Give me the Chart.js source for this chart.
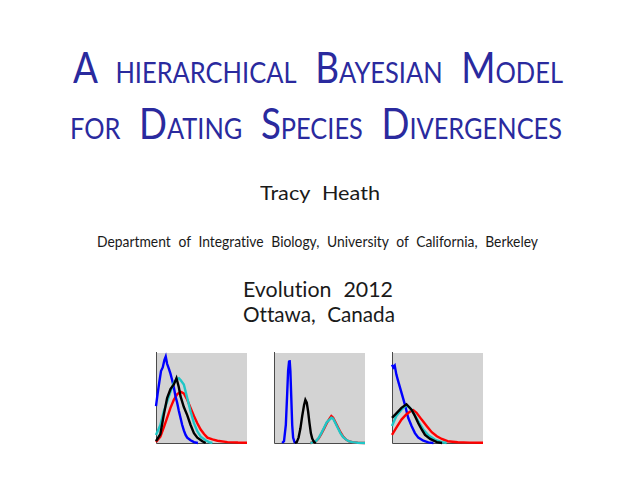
<!DOCTYPE html>
<html>
<head>
<meta charset="utf-8">
<script src="https://cdn.jsdelivr.net/npm/chart.js@4.4.1/dist/chart.umd.min.js"></script>
<style>
  html, body { margin: 0; padding: 0; background: #fff; }
  body { width: 638px; height: 479px; position: relative; overflow: hidden; font-family: Lato, "Open Sans", sans-serif; }
  .txt { position: absolute; white-space: nowrap; line-height: 1; transform-origin: 0 0; font-variant-ligatures: none; }
  .title { color: #2a2a9e; font-size: 42px; font-variant: small-caps; word-spacing: 0.25em; }
  .plain { color: #1a1a1a; }
  canvas { position: absolute; }
</style>
</head>
<body>
<span class="txt title" id="t1" data-left="73" data-width="490" style="top:45.7px">A hierarchical Bayesian Model</span>
<span class="txt title" id="t2" data-left="70" data-width="492" style="top:101.7px">for Dating Species Divergences</span>
<span class="txt plain" data-left="260" data-width="120" style="top:182px;font-size:20px;word-spacing:0.3em">Tracy Heath</span>
<span class="txt plain" data-left="97" data-width="441" style="top:233.7px;font-size:15px;word-spacing:0.3em">Department of Integrative Biology, University of California, Berkeley</span>
<span class="txt plain" data-left="243" data-width="150" style="top:277.5px;font-size:22px;word-spacing:0.3em">Evolution 2012</span>
<span class="txt plain" data-left="243" data-width="152" style="top:302.5px;font-size:22px;word-spacing:0.3em">Ottawa, Canada</span>

<canvas id="p1" width="100" height="100" style="left:151px;top:348px"></canvas>
<canvas id="p2" width="100" height="100" style="left:269px;top:348px"></canvas>
<canvas id="p3" width="100" height="100" style="left:387px;top:348px"></canvas>

<script>
// panel 1
const p1BlueX  = [0, 1.8, 3.7, 5.5, 7.4, 9.2, 10.7, 12.2, 14, 15.9, 17.7, 19.6, 21.4, 23.2, 25, 26.9, 28.8, 30.6, 32.5, 34.3, 38, 41.7, 46];
const p1BlueY  = [.41, .55, .68, .80, .84, .92, .96, .88, .83, .77, .70, .62, .52, .45, .36, .28, .20, .14, .09, .06, .03, .01, 0];
const p1BlackX = [0, 4.8, 8.5, 12.2, 15.9, 19.6, 22.5, 25.1, 26.9, 30.6, 34.3, 38, 41.7, 45.4, 50.9, 54.6];
const p1BlackY = [.02, .10, .31, .50, .60, .65, .72, .62, .52, .40, .31, .20, .11, .06, .02, 0];
const p1CyanX  = [0, 4.8, 8.5, 12.2, 15.9, 19.6, 23.2, 25.1, 27, 30.6, 34.3, 38, 41.7, 45.4, 49.1, 54.6, 58.3, 62];
const p1CyanY  = [.09, .20, .35, .46, .57, .67, .71, .72, .70, .65, .50, .35, .22, .13, .07, .03, .01, 0];
const p1RedX   = [0, 4.8, 8.5, 12.2, 15.9, 19.6, 23.2, 26.9, 30.6, 34.3, 38, 41.7, 45.4, 49.1, 52.8, 56.5, 62, 67.5, 78.6, 90, 100];
const p1RedY   = [.01, .07, .17, .28, .39, .48, .54, .57, .55, .48, .39, .30, .22, .15, .10, .06, .04, .025, .01, .005, .003];

// panel 2
const p2BlueX  = [9, 11, 13, 14.5, 15.5, 16.5, 17.2, 18, 19, 20, 21, 22.5, 24];
const p2BlueY  = [0, .02, .20, .55, .80, .90, .92, .80, .50, .20, .06, .01, 0];
const p2BlackX = [23, 25, 27, 29, 31, 33, 34.5, 36, 37.5, 39, 40.5, 42, 44, 46];
const p2BlackY = [0, .01, .06, .16, .30, .42, .48, .45, .35, .22, .11, .05, .01, 0];
const p2CyanX  = [40, 43, 46, 49, 52, 55, 58, 61, 63, 65, 67, 70, 73, 76, 79, 82, 86, 92, 100];
const p2CyanY  = [0, .006, .02, .055, .11, .17, .23, .26, .28, .27, .23, .17, .11, .065, .04, .02, .01, .003, 0];
const p2RedX   = [40, 43, 46, 49, 52, 55, 58, 61, 63, 65, 67, 70, 73, 76, 79, 82, 86, 92, 100];
const p2RedY   = [0, .005, .02, .05, .10, .16, .22, .27, .30, .28, .24, .18, .12, .07, .04, .02, .01, .003, 0];

// panel 3
const p3BlueX  = [0, 1.5, 3, 4.8, 6.7, 10.4, 14.1, 17.8, 21.5, 25.2, 28.9, 34.4, 40, 45.6];
const p3BlueY  = [.87, .84, .86, .76, .69, .56, .43, .28, .19, .11, .06, .025, .007, 0];
const p3BlackX = [0, 4.8, 10.4, 15.9, 21.5, 25.2, 28.9, 32.6, 36.3, 41.9, 49.3, 55];
const p3BlackY = [.28, .33, .39, .43, .37, .30, .22, .15, .09, .045, .01, 0];
const p3CyanX  = [0, 4.8, 10.4, 15.9, 19.6, 25.2, 28.9, 34.4, 40, 47.4, 54.8, 60];
const p3CyanY  = [.19, .30, .37, .42, .39, .31, .24, .15, .085, .035, .01, 0];
const p3RedX   = [0, 4.8, 10.4, 15.9, 21.5, 23.3, 27, 32.6, 38.1, 43.7, 49.3, 54.8, 61.1, 72.2, 85, 100];
const p3RedY   = [.09, .17, .26, .32, .36, .365, .335, .26, .19, .12, .075, .045, .02, .008, .004, .002];

const colors = { black: '#000000', cyan: '#1fc6c6', red: '#ff0000', blue: '#0000ff' };

function pts(xs, ys) {
  return xs.map((x, i) => ({ x: x, y: ys[i] }));
}

const panelFrame = {
  id: 'panelFrame',
  beforeDraw(chart) {
    const a = chart.chartArea, ctx = chart.ctx;
    ctx.save();
    ctx.fillStyle = '#d3d3d3';
    ctx.fillRect(a.left, a.top, a.right - a.left, a.bottom - a.top);
    ctx.restore();
  },
  beforeDatasetsDraw(chart) {
    const a = chart.chartArea, ctx = chart.ctx;
    ctx.save();
    ctx.strokeStyle = '#4a4a4a';
    ctx.lineWidth = 1;
    ctx.beginPath();
    ctx.moveTo(a.left + 0.5, a.top - 1);
    ctx.lineTo(a.left + 0.5, a.bottom + 0.5);
    ctx.lineTo(a.right, a.bottom + 0.5);
    ctx.stroke();
    ctx.restore();
  }
};

function makePanel(id, series) {
  new Chart(document.getElementById(id).getContext('2d'), {
    type: 'line',
    data: {
      datasets: series.map(s => ({
        data: pts(s[1], s[2]),
        borderColor: colors[s[0]],
        borderWidth: 2.4,
        pointRadius: 0,
        tension: 0,
        fill: false,
        clip: 3
      }))
    },
    options: {
      responsive: false,
      animation: false,
      events: [],
      layout: { padding: { left: 5, top: 5, right: 4, bottom: 5 } },
      plugins: { legend: { display: false }, tooltip: { enabled: false } },
      scales: {
        x: { type: 'linear', min: 0, max: 100, display: false },
        y: { min: 0, max: 1, display: false }
      }
    },
    plugins: [panelFrame]
  });
}

makePanel('p1', [['black', p1BlackX, p1BlackY], ['cyan', p1CyanX, p1CyanY], ['blue', p1BlueX, p1BlueY], ['red', p1RedX, p1RedY]]);
makePanel('p2', [['black', p2BlackX, p2BlackY], ['cyan', p2CyanX, p2CyanY], ['red', p2RedX, p2RedY], ['blue', p2BlueX, p2BlueY]]);
makePanel('p3', [['black', p3BlackX, p3BlackY], ['cyan', p3CyanX, p3CyanY], ['red', p3RedX, p3RedY], ['blue', p3BlueX, p3BlueY]]);

// stretch each text line to the width it has on the slide
document.querySelectorAll('.txt').forEach(el => {
  el.style.left = el.dataset.left + 'px';
  const w = el.getBoundingClientRect().width;
  el.style.transform = 'scaleX(' + (el.dataset.width / w) + ')';
});
</script>
</body>
</html>
